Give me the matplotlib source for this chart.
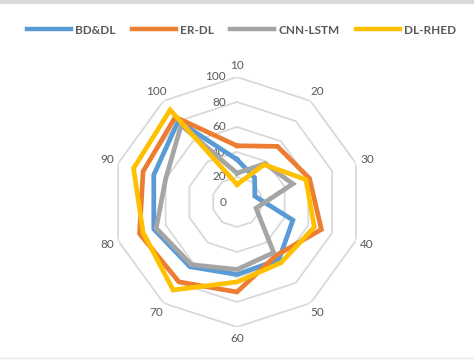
import numpy as np
import matplotlib.pyplot as plt
from matplotlib.lines import Line2D

# categories around the radar (clockwise from top)
categories = ["10", "20", "30", "40", "50", "60", "70", "80", "90", "100"]
ring_values = [0, 20, 40, 60, 80, 100]

bd_dl = [34, 24, 15, 47, 57, 58, 64, 70, 70, 80]
er_dl = [45, 55, 61, 71, 53, 72, 79, 82, 79, 84]
cnn_lstm = [23, 38, 47, 16, 50, 54, 62, 68, 60, 76]
dl_rhed = [14, 37, 58, 65, 60, 64, 87, 79, 87, 91]

series = [("BD&DL", bd_dl, "#5B9BD5"),
          ("ER-DL", er_dl, "#ED7D31"),
          ("CNN-LSTM", cnn_lstm, "#A5A5A5"),
          ("DL-RHED", dl_rhed, "#FFC000")]

plt.rcParams['font.family'] = ['Lato', 'DejaVu Sans']
txt_color = "#595959"

fig = plt.figure(figsize=(4.74, 3.62), dpi=100)
ax = fig.add_axes([112/474, 35/362, 250/474, 250/362], projection='polar')
ax.set_theta_zero_location('N')
ax.set_theta_direction(-1)
ax.set_ylim(0, 100)
ax.grid(False)
ax.spines['polar'].set_visible(False)
ax.set_xticks([])
ax.set_yticks([])
ax.patch.set_alpha(0)

n = len(categories)
theta = np.linspace(0, 2*np.pi, n, endpoint=False)
theta_c = np.append(theta, theta[0])

# decagon gridlines
for r in ring_values[1:]:
    ax.plot(theta_c, [r]*(n+1), color="#d9d9d9", lw=1.3, zorder=1)

# radial value labels
for r in ring_values:
    ax.annotate(str(r), (0, r), xytext=(-11, 0), textcoords='offset pixels',
                ha='right', va='center', fontsize=8.5, color=txt_color)

# category labels
for t, c in zip(theta, categories):
    ax.text(t, 109.5, c, ha='center', va='center', fontsize=8.5,
            color=txt_color, clip_on=False)

for name, vals, col in series:
    ax.plot(theta_c, vals + vals[:1], color=col, lw=3.4, label=name,
            solid_joinstyle='miter', zorder=3)

handles = [Line2D([], [], color=col, lw=3.2) for _, _, col in series]
leg = fig.legend(handles, [s[0] for s in series], loc='center',
                 bbox_to_anchor=(0.51, 0.917), ncol=4, frameon=False,
                 fontsize=8.5, handlelength=3.7, handletextpad=0.4,
                 columnspacing=1.35)
for t in leg.get_texts():
    t.set_color(txt_color)
    t.set_fontweight('bold')

# light frame lines at top and bottom
fig.add_artist(Line2D([0, 1], [0.995, 0.995], color="#d9d9d9", lw=3,
                      transform=fig.transFigure))
fig.add_artist(Line2D([0, 1], [0.012, 0.012], color="#e6e6e6", lw=1,
                      transform=fig.transFigure))

fig.savefig("out.png", dpi=100)
